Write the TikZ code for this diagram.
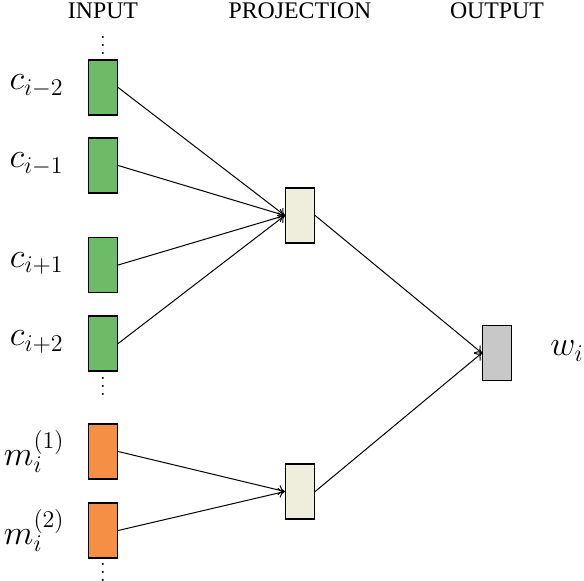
\documentclass[tikz,border=0pt]{standalone}
\usepackage{tikz}
\usepackage{fontspec}
\usetikzlibrary{positioning,arrows.meta}
\newfontfamily\titlefont{Liberation Serif}
\newcommand{\colvdots}{\vbox{\baselineskip4pt\lineskiplimit0pt\hbox{.}\hbox{.}\hbox{.}}}
\definecolor{ctxgreen}{HTML}{6DBA67}
\definecolor{morange}{HTML}{F58F45}
\definecolor{projbeige}{HTML}{EFEDDB}
\definecolor{outgray}{HTML}{C8C8C8}
\tikzset{
  unit/.style={draw=black, line width=0.65pt, minimum width=14.5pt, minimum height=27.5pt, inner sep=0pt},
  ctxunit/.style={unit, fill=ctxgreen},
  mrunit/.style={unit, fill=morange},
  projunit/.style={unit, fill=projbeige},
  outunit/.style={unit, fill=outgray},
  title/.style={font=\titlefont\fontsize{11.9}{14}\selectfont},
  lbl/.style={font=\fontsize{18.5}{22}\selectfont, inner sep=0pt},
  link/.style={-{Computer Modern Rightarrow[length=3.2pt, width=5pt]}, line width=0.5pt},
  dots/.style={inner sep=0pt}
}
\begin{document}
\begin{tikzpicture}[x=0.5pt, y=-0.5pt]
			\useasboundingbox (0, 0) rectangle (584, 580);
			
			%%%%% TITLES %%%%%
			\node[title] (tin) at (103, 11) {INPUT};
			\node[title] (tproj) at (300, 11) {PROJECTION};
			\node[title] (tout) at (497, 11) {OUTPUT};
			
			%%%%% INPUT LAYER %%%%%
			\node[ctxunit] (c1) at (103, 87.5) {};
			\node[ctxunit] (c2) at (103, 165.5) {};
			\node[ctxunit] (c3) at (103, 265) {};
			\node[ctxunit] (c4) at (103, 343.5) {};
			\node[mrunit] (m1) at (103, 451.5) {};
			\node[mrunit] (m2) at (103, 530.5) {};
			
			\node[lbl, anchor=east] (lc1) at (64, 86) {$c_{i-2}$};
			\node[lbl, anchor=east] (lc2) at (64, 164) {$c_{i-1}$};
			\node[lbl, anchor=east] (lc3) at (64, 263.5) {$c_{i+1}$};
			\node[lbl, anchor=east] (lc4) at (64, 342) {$c_{i+2}$};
			\node[lbl, anchor=east] (lm1) at (65, 451.5) {$m_i^{(1)}$};
			\node[lbl, anchor=east] (lm2) at (65, 530.5) {$m_i^{(2)}$};
			
			\node[dots, anchor=south] (d1) at ([yshift=2pt]c1.north) {\colvdots};
			\node[dots, anchor=north] (d2) at ([yshift=-2.5pt]c4.south) {\colvdots};
			\node[dots, anchor=north] (d3) at ([yshift=-2pt]m2.south) {\colvdots};
			
			%%%%% PROJECTION LAYER %%%%%
			\node[projunit] (p1) at (300, 215.5) {};
			\node[projunit] (p2) at (300, 491.5) {};
			
			%%%%% OUTPUT LAYER %%%%%
			\node[outunit] (w) at (497, 353) {};
			\node[lbl, anchor=west] (lw) at (550, 351) {$w_i$};
			
			%%%%% LINKS %%%%%
			\foreach \src in {c1, c2, c3, c4}
				\draw[link] (\src.east) -- (p1.west);
			\foreach \src in {m1, m2}
				\draw[link] (\src.east) -- (p2.west);
			\draw[link] (p1.east) -- (w.west);
			\draw[link] (p2.east) -- (w.west);
			
		\end{tikzpicture}
\end{document}
